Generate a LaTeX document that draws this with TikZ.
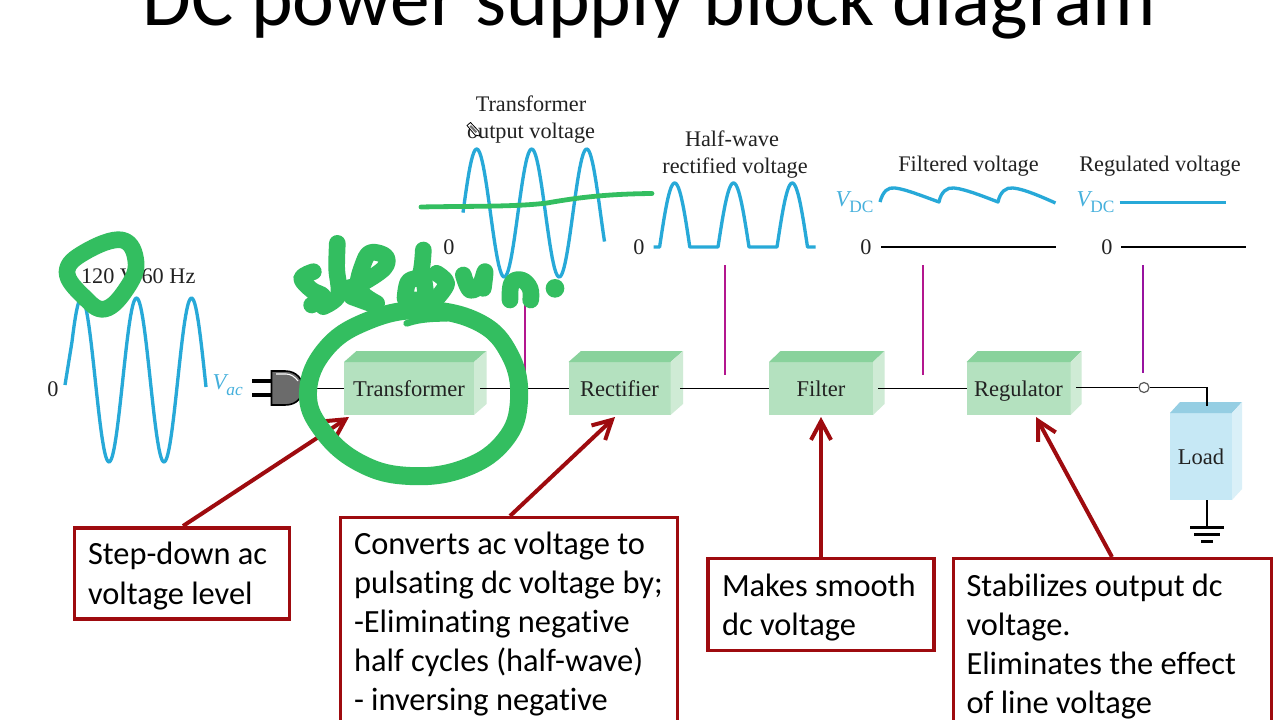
\documentclass[tikz,border=0pt]{standalone}
\usepackage{fontspec}
\setmainfont{Liberation Serif}
\newfontfamily\calfont[Ligatures=NoCommon]{Carlito}
\usetikzlibrary{calc,arrows.meta}
\definecolor{wavecol}{HTML}{27A9D8}
\definecolor{vlabel}{HTML}{45B0DC}
\definecolor{inkgreen}{HTML}{33BE60}
\definecolor{frontg}{HTML}{B4E1BF}
\definecolor{topg}{HTML}{89D29C}
\definecolor{sideg}{HTML}{CFEBD5}
\definecolor{frontb}{HTML}{C6E8F5}
\definecolor{topb}{HTML}{95CEE3}
\definecolor{sideb}{HTML}{DAF0F8}
\definecolor{redbox}{HTML}{9E0B0F}
\definecolor{probe}{HTML}{B3168E}
\definecolor{textink}{HTML}{222222}
\newcommand{\blockfaces}[4]{%
  \fill[#3] (#1.north west) -- ++(#2,-11) -- ($(#1.north east)+(#2,-11)$) -- (#1.north east) -- cycle;
  \fill[#4] (#1.north east) -- ++(#2,-11) -- ($(#1.south east)+(#2,-11)$) -- (#1.south east) -- cycle;}
\newcommand{\vdc}{{\fontsize{17pt}{19pt}\selectfont\itshape V}\raisebox{-4.2pt}{\fontsize{13pt}{15pt}\selectfont DC}}
\tikzset{
  wave/.style={draw=wavecol,line width=2.5pt,line join=round},
  wire/.style={draw=black,line width=1.45pt},
  probeline/.style={draw=probe,line width=1.5pt},
  ink/.style={draw=inkgreen,line cap=round,line join=round},
  serif/.style={font=\fontsize{16.7pt}{19pt}\selectfont,text=textink,inner sep=0pt,outer sep=0pt,anchor=base},
  vtext/.style={font=\fontsize{17pt}{19pt}\selectfont,text=vlabel,inner sep=0pt,outer sep=0pt,anchor=base west},
  block/.style n args={3}{minimum width=#1*0.75pt,minimum height=#2*0.75pt,fill=#3,inner sep=0pt,outer sep=0pt,
    font=\fontsize{16.9pt}{19pt}\selectfont,text=textink,text height=12.6pt,text depth=0pt},
  note/.style n args={2}{draw=redbox,line width=2.7pt,fill=white,inner sep=0pt,outer sep=0pt,minimum width=#1*0.75pt,minimum height=#2*0.75pt},
  notetext/.style={font=\calfont\fontsize{24.3pt}{26pt}\selectfont,text=black,anchor=base west,inner sep=0pt,outer sep=0pt},
  pointer/.style={draw=redbox,line width=3pt,-{Straight Barb[length=14pt,width=15pt,line width=3pt]}},
}
\begin{document}
\begin{tikzpicture}[x=0.75pt,y=-0.75pt]
\useasboundingbox (0,0) rectangle (1280,720);
\clip (0,0) rectangle (1280,720);
\fill[white] (0,0) rectangle (1280,720);

% title
\node[font=\calfont\fontsize{59.5pt}{62pt}\selectfont,anchor=base,inner sep=0pt,text=black] (title) at (649,26) {DC power supply block diagram};

% input wave
\node[serif,anchor=base west] (inlabel) at (81,283.7) {120 V 60 Hz};
\node[serif] (zeroA) at (53,396) {0};
\draw[wave] (65,385) -- plot[domain=72:206,samples=120] (\x,{380-82*cos(6.54545*(\x-81.5))});
\node[vtext] (vac) at (212.5,389) {{\itshape V}\raisebox{-5pt}{\fontsize{13pt}{15pt}\selectfont\itshape ac}};

% transformer output
\node[serif] (lblT1) at (531,112) {Transformer};
\node[serif] (lblT2) at (531,139) {output voltage};
\node[serif] (zeroB) at (449,254) {0};
\draw[wave] plot[domain=463:604.5,samples=120] (\x,{213-64*cos(6.54545*(\x-476.7))});

% half-wave
\node[serif] (lblH1) at (732,147) {Half-wave};
\node[serif] (lblH2) at (735,173.7) {rectified voltage};
\node[serif] (zeroC) at (639,254) {0};
\draw[wave] (653.5,247)
  -- plot[domain=659.6:689.8,samples=30] (\x,{247-64*sin(180*(\x-659.6)/30.2)})
  -- plot[domain=718:749,samples=30] (\x,{247-64*sin(180*(\x-718)/31)})
  -- plot[domain=777:807.5,samples=30] (\x,{247-64*sin(180*(\x-777)/30.5)})
  -- (815.5,247);

% filtered
\node[serif] (lblF) at (968.5,172) {Filtered voltage};
\node[vtext] (vdcA) at (835.5,207) {\vdc};
\node[serif] (zeroD) at (866,254) {0};
\draw[wave] (880,202) .. controls (883,191) and (888,187) .. (895,188)
  .. controls (905,189) and (925,197) .. (939,202)
  .. controls (941,192) and (947,187) .. (954,188)
  .. controls (965,189) and (985,197) .. (998,202)
  .. controls (1000,192) and (1006,187) .. (1013,188)
  .. controls (1024,189) and (1042,197) .. (1055.5,203);
\coordinate (zFa) at (881,247); \coordinate (zFb) at (1055.5,247);
\draw[wire] (zFa) -- (zFb);

% regulated
\node[serif] (lblR) at (1160,172) {Regulated voltage};
\node[vtext] (vdcB) at (1076.5,207) {\vdc};
\node[serif] (zeroE) at (1107,254) {0};
\coordinate (rga) at (1119.5,202.5); \coordinate (rgb) at (1225.5,202.5);
\draw[wave] (rga) -- (rgb);
\coordinate (zRa) at (1121,247); \coordinate (zRb) at (1246,247);
\draw[wire] (zRa) -- (zRb);

% blocks
\node[block={130}{53}{frontg}] (trans) at (409,388.5) {Transformer};
\node[block={102}{53}{frontg}] (rect) at (619.5,388.5) {Rectifier};
\node[block={104}{53}{frontg}] (filt) at (821,388.5) {Filter};
\node[block={104}{53}{frontg}] (reg) at (1018.5,388.5) {Regulator};
\node[block={62}{87}{frontb}] (load) at (1201,456.5) {Load};
\blockfaces{trans}{12.5}{topg}{sideg}
\blockfaces{rect}{12.5}{topg}{sideg}
\blockfaces{filt}{11.5}{topg}{sideg}
\blockfaces{reg}{11}{topg}{sideg}
\blockfaces{load}{10}{topb}{sideb}

% probe lines
\coordinate (pAa) at (524.5,300); \coordinate (pAb) at (524.5,375);
\coordinate (pBa) at (725,265); \coordinate (pBb) at (725,375);
\coordinate (pCa) at (922.5,265); \coordinate (pCb) at (922.5,375);
\coordinate (pDa) at (1143,265); \coordinate (pDb) at (1143,373);
\draw[probeline] (pAa) -- (pAb);
\draw[probeline] (pBa) -- (pBb);
\draw[probeline] (pCa) -- (pCb);
\draw[probeline,draw=probe!85!blue] (pDa) -- (pDb);

% plug
\coordinate (prAa) at (252,381); \coordinate (prAb) at (272,381);
\coordinate (prBa) at (252,395); \coordinate (prBb) at (272,395);
\draw[black,line width=3.2pt] (prAa) -- (prAb);
\draw[black,line width=3.2pt] (prBa) -- (prBb);
\draw[black,fill=black!58,line width=1.2pt] (271.5,371) -- (285,371) .. controls (297,371) and (303,380) .. (303,388) .. controls (303,397) and (297,405) .. (285,405) -- (271.5,405) -- cycle;
\draw[white,line width=0.8pt] (276,374) -- (286,374) .. controls (291,374) and (295,377) .. (298,381);

% wires
\coordinate (plugout) at (303,388.5);
\coordinate (tOut) at (480,388.5);
\coordinate (rOut) at (680,388.5);
\coordinate (fOut) at (878,388.5);
\coordinate (gOut) at (1076,387.5);
\coordinate (gndA) at (1207,527);
\coordinate (loadIn) at (1207,406);
\coordinate (loadOut) at (1207,500);
\node[circle,draw=black!65,fill=white,line width=0.9pt,minimum size=7.5pt,inner sep=0pt] (sw) at (1144,387.5) {};
\draw[wire] (plugout) -- (trans.west);
\draw[wire] (tOut) -- (rect.west);
\draw[wire] (rOut) -- (filt.west);
\draw[wire] (fOut) -- (reg.west);
\draw[wire,line width=1.3pt] (gOut) -- (sw.west);
\draw[wire,line width=1.3pt] (sw.east) -| (loadIn);
\draw[wire,line width=1.3pt] (loadOut) -- (gndA);

% ground
\coordinate (gA1) at (1190,527.5); \coordinate (gA2) at (1224,527.5);
\coordinate (gB1) at (1194,534.5); \coordinate (gB2) at (1220,534.5);
\coordinate (gC1) at (1201,541.5); \coordinate (gC2) at (1212.5,541.5);
\draw[black,line width=2.3pt] (gA1) -- (gA2);
\draw[black,line width=2.3pt] (gB1) -- (gB2);
\draw[black,line width=2.3pt] (gC1) -- (gC2);

% note boxes
\node[note={215}{91},anchor=north west] (noteA) at (74.5,528) {};
\node[note={337}{260},anchor=north west] (noteB) at (340.5,517.5) {};
\node[note={226}{92},anchor=north west] (noteC) at (708,558.5) {};
\node[note={318}{220},anchor=north west] (noteD) at (953.5,558.5) {};

\node[notetext] (tA1) at (88,564.5) {Step-down ac};
\node[notetext] (tA2) at (88,604) {voltage level};
\node[notetext] (tB1) at (354,554.5) {Converts ac voltage to};
\node[notetext] (tB2) at (354,593.5) {pulsating dc voltage by;};
\node[notetext] (tB3) at (354,632.5) {-Eliminating negative};
\node[notetext] (tB4) at (354,671.5) {half cycles (half-wave)};
\node[notetext] (tB5) at (354,710.5) {- inversing negative};
\node[notetext] (tC1) at (722,596) {Makes smooth};
\node[notetext] (tC2) at (722,635) {dc voltage};
\node[notetext] (tD1) at (966.5,596) {Stabilizes output dc};
\node[notetext] (tD2) at (966.5,635) {voltage.};
\node[notetext] (tD3) at (966.5,674) {Eliminates the effect};
\node[notetext] (tD4) at (966.5,713) {of line voltage};

% pointers
\coordinate (aFromA) at (183,526); \coordinate (aToA) at (349,417);
\coordinate (aFromB) at (510,516); \coordinate (aToB) at (615,417);
\coordinate (aFromC) at (821,557); \coordinate (aToC) at (821,417);
\coordinate (aFromD) at (1112,557); \coordinate (aToD) at (1036,417);
\draw[pointer] (aFromA) -- (aToA);
\draw[pointer] (aFromB) -- (aToB);
\draw[pointer] (aFromC) -- (aToC);
\draw[pointer] (aFromD) -- (aToD);

% green ink
\draw[ink,line width=3.6pt] (421,207) .. controls (470,206) and (515,207) .. (547,203) .. controls (570,199) and (600,194) .. (652,193.5);
\draw[ink,line width=13.5pt] plot[smooth cycle,tension=0.7] coordinates {(308,392) (325,350) (365,322) (420,310) (478,322) (510,355) (519,400) (505,440) (465,468) (410,476) (360,463) (322,430)};
\draw[ink,line width=12.5pt] plot[smooth cycle,tension=0.7] coordinates {(67,272) (85,252) (122,240) (136,262) (127,288) (105,309) (84,297)};
\begin{scope}[shift={(280,225)},x=0.25pt,y=-0.25pt,ink,line width=12.5pt]
  \draw plot[smooth,tension=0.6] coordinates {(100,140) (65,160) (95,195) (130,215) (95,240)};
  \draw plot[smooth,tension=0.6] coordinates {(172,55) (170,130) (175,210) (130,245)};
  \draw plot[smooth,tension=0.6] coordinates {(200,190) (245,175) (312,130) (318,95) (275,82) (252,110) (235,190) (290,235)};
  \draw (215,215) -- (270,235);
  \draw plot[smooth,tension=0.6] coordinates {(430,75) (420,150) (385,170) (375,220)};
  \draw (380,225) -- (440,225) -- (430,150);
  \draw plot[smooth,tension=0.6] coordinates {(470,145) (500,175) (470,220)};
  \draw plot[smooth,tension=0.6] coordinates {(550,150) (570,195) (600,180) (615,140) (610,190)};
  \draw plot[smooth,tension=0.7] coordinates {(690,225) (695,175) (725,165) (750,190) (752,225)};
  \fill[inkgreen] (825,190) circle (7pt);
  \draw[line width=5pt] (380,295) .. controls (410,285) and (440,280) .. (500,280);
\end{scope}

% pen cursor
\draw[black,fill=white,line width=0.6pt,line join=round] (467,125.5) -- (470.5,122.5) -- (479,131.5) -- (479.5,136) -- (475,135) -- cycle;
\fill[black!55] (469.5,126.5) -- (471,125) -- (477,131.5) -- (475.5,133) -- cycle;
\end{tikzpicture}
\end{document}
